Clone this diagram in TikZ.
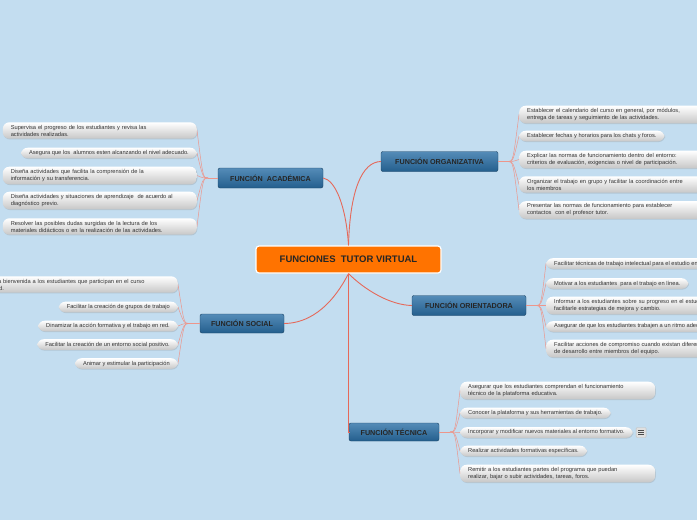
\documentclass[tikz,border=0pt]{standalone}
\usepackage{fontspec}
\setmainfont{Liberation Sans}
\usetikzlibrary{shadows}
\definecolor{bg}{HTML}{C3DDF0}
\definecolor{link}{HTML}{E5695A}
\definecolor{mainblue}{HTML}{2A6FA6}
\tikzset{
 leaf/.style={rounded corners=6.5pt, top color=white, bottom color=black!22, draw=none,
   font=\fontsize{5.7}{7}\selectfont, text=black!80, align=left, inner xsep=8pt, inner ysep=2.6pt,
   drop shadow={shadow xshift=0.6pt,shadow yshift=-0.8pt,opacity=0.25}},
 mainn/.style={rounded corners=2pt, top color=mainblue!80!white, bottom color=mainblue!85!black, draw=mainblue!60!black,
   font=\bfseries\fontsize{7.2}{8.5}\selectfont, text=black!85, inner xsep=4pt, minimum height=20pt},
 lnk/.style={draw=link, line width=0.9pt},
 sub/.style={draw=link!70, line width=0.5pt}
}
\begin{document}
\begin{tikzpicture}[x=1pt,y=-1pt]
\fill[bg] (0,0) rectangle (697,520);
\useasboundingbox (0,0) rectangle (697,520);
\clip (0,0) rectangle (697,520);

\node[rounded corners=3pt, fill=orange!90!red, draw=white, line width=1.2pt, minimum width=185pt, minimum height=27pt,
  font=\bfseries\fontsize{9.5}{11}\selectfont, text=black!85] (c) at (348.5,259.5) {FUNCIONES\ \ TUTOR VIRTUAL};

\node[mainn, minimum width=105pt] (aca) at (270.5,178) {FUNCIÓN\ \ ACADÉMICA};
\node[mainn, minimum width=117pt] (org) at (439.5,161.5) {FUNCIÓN ORGANIZATIVA};
\node[mainn, minimum width=114pt] (ori) at (469,305.5) {FUNCIÓN ORIENTADORA};
\node[mainn, minimum width=84pt, minimum height=19pt] (soc) at (242,323.5) {FUNCIÓN SOCIAL};
\node[mainn, minimum width=90pt, minimum height=18pt] (tec) at (394,432) {FUNCIÓN TÉCNICA};

% main connectors
\draw[lnk] (c.north) .. controls (346,205) and (335,180) .. (aca.east);
\draw[lnk] (c.north) .. controls (350,190) and (362,162) .. (org.west);
\draw[lnk] (c.south) .. controls (340,290) and (320,323) .. (soc.east);
\draw[lnk] (c.south) .. controls (365,290) and (390,305) .. (ori.west);
\draw[lnk] (c.south) -- (tec.north -| c.south) |- (tec.west);

% Académica leaves
\begin{scope}[every node/.append style={leaf, anchor=east}]
\node[text width=178pt] (a1) at (197,130.5) {Supervisa el progreso de los estudiantes y revisa las\\actividades realizadas.};
\node (a2) at (197,153) {Asegura que los\ \ alumnos esten alcanzando el nivel adecuado.};
\node[text width=178pt] (a3) at (197,175.5) {Diseña actividades que facilita la comprensión de la\\información y su transferencia.};
\node[text width=178pt] (a4) at (197,200.5) {Diseña actividades y situaciones de aprendizaje\ \ de acuerdo al\\diagnóstico previo.};
\node[text width=178pt] (a5) at (197,226.5) {Resolver las posibles dudas surgidas de la lectura de los\\materiales didácticos o en la realización de las actividades.};
\end{scope}
\coordinate (ak) at (208,178);
\draw[sub] (aca.west) -- (ak);
\foreach \n in {a1,a2,a3,a4,a5}{\draw[sub] (ak) .. controls (203,178) and (203,178) .. (\n.east);}

% Organizativa leaves
\begin{scope}[every node/.append style={leaf, anchor=west}]
\node[text width=180pt] (o1) at (519,114.5) {Establecer el calendario del curso en general, por módulos,\\entrega de tareas y seguimiento de las actividades.};
\node (o2) at (519,136) {Establecer fechas y horarios para los chats y foros.};
\node[text width=180pt] (o3) at (519,159.5) {Explicar las normas de funcionamiento dentro del entorno:\\criterios de evaluación, exigencias o nivel de participación.};
\node[text width=180pt] (o4) at (519,184.5) {Organizar el trabajo en grupo y facilitar la coordinación entre\\los miembros};
\node[text width=180pt] (o5) at (519,210) {Presentar las normas de funcionamiento para establecer\\contactos\ \ con el profesor tutor.};
\end{scope}
\coordinate (ok) at (508,161.5);
\draw[sub] (org.east) -- (ok);
\foreach \n in {o1,o2,o3,o4,o5}{\draw[sub] (ok) .. controls (513,161.5) and (513,161.5) .. (\n.west);}

% Orientadora leaves
\begin{scope}[every node/.append style={leaf, anchor=west}]
\node (r1) at (546,263.5) {Facilitar técnicas de trabajo intelectual para el estudio en red.};
\node (r2) at (546,283.5) {Motivar a los estudiantes\ \ para el trabajo en línea.};
\node[text width=185pt] (r3) at (546,305.5) {Informar a los estudiantes sobre su progreso en el estudio y\\facilitarle estrategias de mejora y cambio.};
\node (r4) at (546,326.5) {Asegurar de que los estudiantes trabajen a un ritmo adecuado.};
\node[text width=185pt] (r5) at (546,348.5) {Facilitar acciones de compromiso cuando existan diferencias\\de desarrollo entre miembros del equipo.};
\end{scope}
\coordinate (rk) at (536,305.5);
\draw[sub] (ori.east) -- (rk);
\foreach \n in {r1,r2,r3,r4,r5}{\draw[sub] (rk) .. controls (541,305.5) and (541,305.5) .. (\n.west);}

% Social leaves
\begin{scope}[every node/.append style={leaf, anchor=east}]
\node[text width=184pt] (s1) at (178,284.5) {Dar la bienvenida a los estudiantes que participan en el curso\\en red.};
\node (s2) at (178,307) {Facilitar la creación de grupos de trabajo};
\node (s3) at (178,326) {Dinamizar la acción formativa y el trabajo en red.};
\node (s4) at (178,344.5) {Facilitar la creación de un entorno social positivo.};
\node (s5) at (178,363.5) {Animar y estimular la participación};
\end{scope}
\coordinate (sk) at (189,323.5);
\draw[sub] (soc.west) -- (sk);
\foreach \n in {s1,s2,s3,s4,s5}{\draw[sub] (sk) .. controls (184,323.5) and (184,323.5) .. (\n.east);}

% Técnica leaves
\begin{scope}[every node/.append style={leaf, anchor=west}]
\node[text width=179pt] (t1) at (460,390.5) {Asegurar que los estudiantes comprendan el funcionamiento\\técnico de la plataforma educativa.};
\node (t2) at (460,413) {Conocer la plataforma y sus herramientas de trabajo.};
\node (t3) at (460,432.5) {Incorporar y modificar nuevos materiales al entorno formativo.};
\node (t4) at (460,451) {Realizar actividades formativas específicas.};
\node[text width=179pt] (t5) at (460,473.5) {Remitir a los estudiantes partes del programa que puedan\\realizar, bajar o subir actividades, tareas, foros.};
\end{scope}
\coordinate (tk) at (450,432);
\draw[sub] (tec.east) -- (tk);
\foreach \n in {t1,t2,t3,t4,t5}{\draw[sub] (tk) .. controls (455,432) and (455,432) .. (\n.west);}
\node[fill=black!12, draw=black!25, rounded corners=1pt, minimum size=10pt, inner sep=0pt, anchor=west] (ic) at ([xshift=3pt]t3.east) {};
\foreach \d in {-2.2,0,2.2}{\draw[black!70, line width=0.6pt] ([xshift=-3pt,yshift=\d pt]ic.center) -- ([xshift=3pt,yshift=\d pt]ic.center);}
\end{tikzpicture}
\end{document}
